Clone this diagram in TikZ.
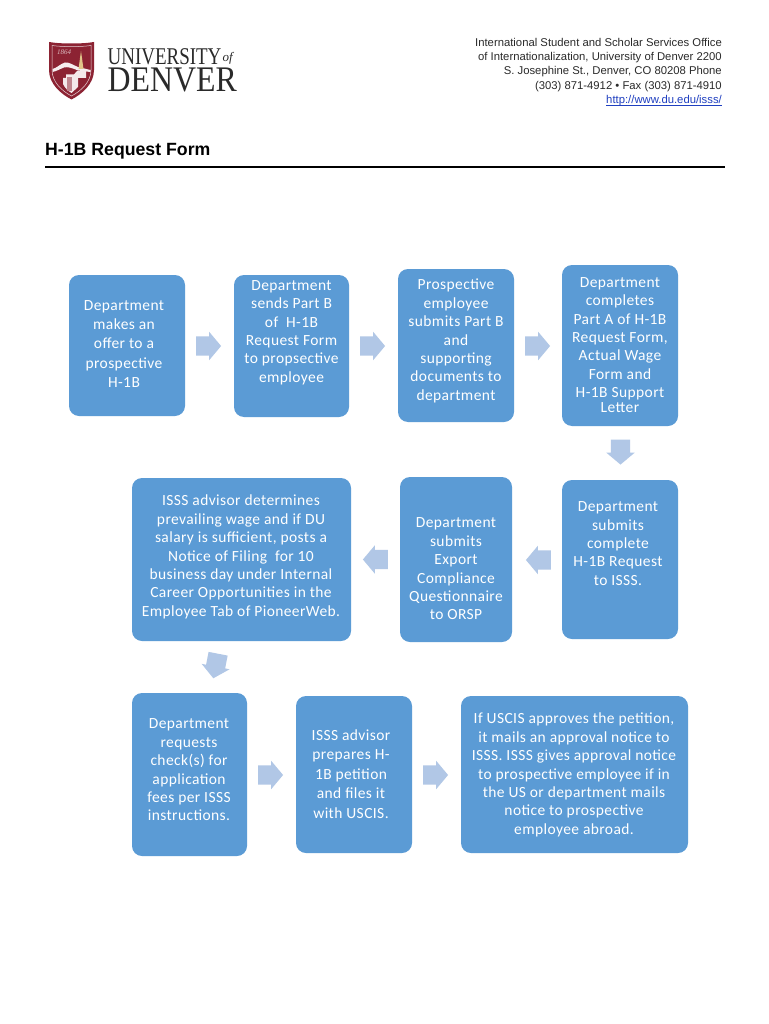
\documentclass[tikz,border=0pt]{standalone}
\usepackage{fontspec}
\setmainfont{Liberation Sans}
\newfontfamily\boxfont[LetterSpace=2.6]{Carlito}
\newfontfamily\logofont{Liberation Serif}
\usetikzlibrary{shapes.arrows}
\definecolor{boxblue}{HTML}{5B9BD5}
\definecolor{arrowblue}{HTML}{B1C7E6}
\definecolor{crest}{HTML}{8C2333}
\definecolor{linkblue}{HTML}{1F3FC0}
\definecolor{headgray}{HTML}{2A2A2A}
\tikzset{
  x=1pt,y=-1pt,
  flowbox/.style={fill=boxblue,rounded corners=10pt,draw=none,inner sep=0pt},
  flowtext/.style={text=white,align=center,font=\boxfont\fontsize{15.5}{18.4}\selectfont,inner sep=0pt},
  blockarrow/.style={single arrow,fill=arrowblue,draw=none,inner xsep=0pt,inner ysep=9.5pt,
    minimum height=25pt,single arrow head extend=4.5pt,single arrow tip angle=100,single arrow head indent=0pt,rotate=#1},
  blockarrow/.default=0,
  headline/.style={anchor=base east,inner sep=0pt,text=headgray,font=\fontsize{11.3}{14}\selectfont},
}
\newcommand{\flowbox}[5]{\node[flowbox,minimum width=#4-#2,minimum height=#5-#3] (#1) at ({(#2+#4)/2},{(#3+#5)/2}) {};}
\begin{document}
\begin{tikzpicture}
\useasboundingbox (0,0) rectangle (768,1024);
\fill[white] (0,0) rectangle (768,1024);
% logo
\fill[crest] (49,42) .. controls (60,44) and (83,44) .. (94,42) -- (94,70) .. controls (94,84) and (82,94) .. (71.5,99.5) .. controls (61,94) and (49,84) .. (49,70) -- cycle;
\draw[white!80!crest,line width=.5pt] (52,45.5) .. controls (62,47) and (81,47) .. (91,45.5) -- (91,70) .. controls (91,82) and (81,91) .. (71.5,96) .. controls (62,91) and (52,82) .. (52,70) -- cycle;
% mountain band
\fill[white!92!crest] (52.5,69) .. controls (57,68) and (60,64) .. (65,62.5) .. controls (69,62) and (73,65) .. (78,67) -- (90.5,70) -- (90.5,72) -- (78,70.5) .. controls (72,68) and (68,66.5) .. (64,67.5) .. controls (60,69) and (57,71) .. (52.5,72) -- cycle;
% buildings
\fill[white!90!crest] (63,84) -- (63,78) -- (66,78) -- (66,74.5) -- (74,74.5) -- (77,71) -- (86,71) -- (86,78) -- (78,78) -- (78,87) -- (71.5,93) .. controls (68,91) and (65,88) .. (63,84) -- cycle;
\fill[crest!55!white] (66.5,77) rectangle (72,91);
% spire
\fill[crest!35!white!75!yellow] (81,51) -- (83.5,69) -- (78.5,69) -- cycle;
\node[inner sep=0pt,text=white!70!crest,font=\logofont\itshape\fontsize{7}{7}\selectfont] (year) at (64,52.5) {1864};
\node[anchor=base west,inner sep=0pt,xscale=.79,text=headgray,font=\logofont\fontsize{24}{24}\selectfont] (univ) at (107.5,65) {UNIVERSITY};
\node[anchor=base west,inner sep=0pt,text=headgray,font=\logofont\itshape\fontsize{13}{13}\selectfont] (of) at (222.5,61.5) {of};
\node[anchor=base west,inner sep=0pt,xscale=.885,text=headgray,font=\logofont\fontsize{36}{36}\selectfont] (denver) at (107.5,92) {DENVER};
% header
\node[headline] (h1) at (722,47) {International Student and Scholar Services Office};
\node[headline] (h2) at (722,61) {of Internationalization, University of Denver 2200};
\node[headline] (h3) at (722,75) {S. Josephine St., Denver, CO 80208 Phone};
\node[headline] (h4) at (722,90) {(303) 871-4912 • Fax (303) 871-4910};
\node[headline,text=linkblue] (h5) at (722,104) {http://www.du.edu/isss/};
\draw[linkblue,line width=.7pt] ([yshift=-1.5pt]h5.base west) -- ([yshift=-1.5pt]h5.base east);
\node[anchor=base west,inner sep=0pt,text=black,font=\bfseries\fontsize{17.7}{20}\selectfont] (title) at (45,156) {H-1B Request Form};
\fill[black] (45,166.2) rectangle (724.5,168);
% boxes
\flowbox{b1}{69}{275}{185}{416}
\flowbox{b2}{234}{275}{349}{417}
\flowbox{b3}{398}{269}{514}{422}
\flowbox{b4}{562}{265}{678}{426}
\flowbox{b5}{562}{480}{678}{639}
\flowbox{b6}{400}{477}{512}{642}
\flowbox{b7}{132}{478}{351}{641}
\flowbox{b8}{132}{693}{247}{856}
\flowbox{b9}{296}{696}{412}{853}
\flowbox{b10}{461}{696}{688}{853}
% texts
\node[flowtext,font=\boxfont\fontsize{15.5}{19.2}\selectfont] (t1) at (124,344) {Department\\makes an\\offer to a\\prospective\\H-1B};
\node[flowtext] (t2) at (291.5,332.5) {Department\\sends Part B\\of\ \ H-1B\\Request Form\\to propsective\\employee};
\node[flowtext] (t3) at (456,341) {Prospective\\employee\\submits Part B\\and\\supporting\\documents to\\department};
\node[flowtext] (t4) at (620,345) {Department\\completes\\Part A of H-1B\\Request Form,\\Actual Wage\\Form and\\H-1B Support\\[-3.5pt]Letter};
\node[flowtext] (t5) at (618,543.5) {Department\\submits\\complete\\H-1B Request\\to ISSS.};
\node[flowtext] (t6) at (456,569) {Department\\submits\\Export\\Compliance\\Questionnaire\\to ORSP};
\node[flowtext] (t7) at (241,557) {ISSS advisor determines\\prevailing wage and if DU\\salary is sufficient, posts a\\Notice of Filing\ \ for 10\\business day under Internal\\Career Opportunities in the\\Employee Tab of PioneerWeb.};
\node[flowtext] (t8) at (189,770) {Department\\requests\\check(s) for\\application\\fees per ISSS\\instructions.};
\node[flowtext,font=\boxfont\fontsize{15.5}{19.6}\selectfont] (t9) at (351,774) {ISSS advisor\\prepares H-\\1B petition\\and files it\\with USCIS.};
\node[flowtext] (t10) at (574,775) {If USCIS approves the petition,\\it mails an approval notice to\\ISSS. ISSS gives approval notice\\to prospective employee if in\\the US or department mails\\notice to prospective\\employee abroad.};
% arrows
\node[blockarrow] (a1) at (204.5,346) {};
\node[blockarrow] (a2) at (368.5,346) {};
\node[blockarrow] (a3) at (533.5,346) {};
\node[blockarrow=-90] (a4) at (620.5,448) {};
\node[blockarrow=180] (a5) at (542.5,560) {};
\node[blockarrow=180] (a6) at (379.5,559.5) {};
\node[blockarrow=-101] (a7) at (216.5,662) {};
\node[blockarrow] (a8) at (266.5,775) {};
\node[blockarrow] (a9) at (431.5,775) {};
\end{tikzpicture}
\end{document}
